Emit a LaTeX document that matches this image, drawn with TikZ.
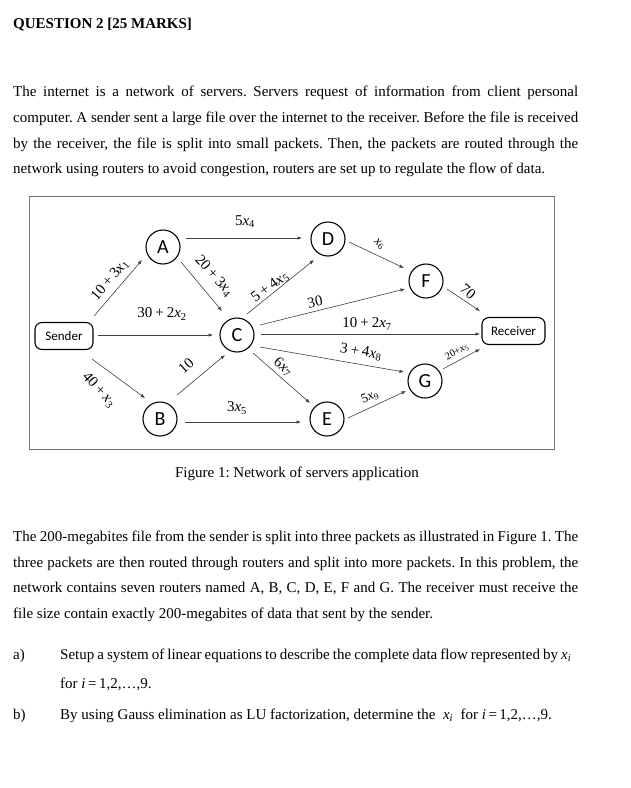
\documentclass[tikz,border=0pt]{standalone}
\usepackage{fontspec}
\setmainfont{Liberation Serif}
\newfontfamily\nodefont{Carlito}
\usetikzlibrary{arrows.meta}
\frenchspacing
\newcommand{\vx}[1]{\textit{x}\textsubscript{#1}}
\newcommand{\pls}{\hspace{0.2em}+\hspace{0.2em}}
\begin{document}
\frenchspacing
\begin{tikzpicture}[x=1pt,y=-1pt,
  txt/.style={anchor=base west, inner sep=0pt, font=\fontsize{15}{18}\selectfont},
  router/.style={circle, draw=black, line width=1.1pt, minimum size=34pt, inner sep=0pt, font=\nodefont\fontsize{20}{20}\selectfont},
  endbox/.style={draw=black, line width=1.1pt, rounded corners=7pt, minimum height=27pt, inner sep=0pt, font=\nodefont\fontsize{13}{13}\selectfont},
  flow/.style={draw=black!75, line width=0.6pt, -{Latex[length=4.5pt,width=3.5pt]}},
  lbl/.style={inner sep=0pt, font=\fontsize{15}{15}\selectfont},
  framebox/.style={draw=black!55, line width=0.9pt}
]
\useasboundingbox (0,0) rectangle (631,788);

% ---- text above ----
\node[txt, font=\fontsize{15}{18}\selectfont\bfseries] (title) at (13,28) {QUESTION 2 [25 MARKS]};
\node[txt] (p1a) at (13,96.5) {\makebox[565pt][s]{The internet is a network of servers. Servers request of information from client personal}};
\node[txt] (p1b) at (13,122) {\makebox[565pt][s]{computer. A sender sent a large file over the internet to the receiver. Before the file is received}};
\node[txt] (p1c) at (13,148) {\makebox[565pt][s]{by the receiver, the file is split into small packets. Then, the packets are routed through the}};
\node[txt] (p1d) at (13,173.5) {network using routers to avoid congestion, routers are set up to regulate the flow of data.};

% ---- figure frame ----
\draw[framebox] (29,196) rectangle (554,449);

% ---- nodes ----
\node[endbox, minimum width=58pt] (S) at (64,336) {Sender};
\node[endbox, minimum width=63pt] (R) at (513.5,331) {Receiver};
\node[router] (A) at (163,247) {A};
\node[router] (B) at (160,419) {B};
\node[router] (C) at (237,335) {C};
\node[router] (D) at (328,239) {D};
\node[router] (E) at (327,419) {E};
\node[router] (F) at (426,281) {F};
\node[router] (G) at (425,381) {G};

% ---- connectors ----
\draw[flow] ([shift={(30,-20)}]S.center) -- ([shift={(-21,13)}]A.center);
\draw[flow] ([shift={(34,-1)}]S.center) -- ([shift={(-24,0)}]C.center);
\draw[flow] ([shift={(28,23)}]S.center) -- ([shift={(-15,-21)}]B.center);
\draw[flow] ([shift={(23,-9)}]A.center) -- ([shift={(-26,-1)}]D.center);
\draw[flow] ([shift={(18,15)}]A.center) -- ([shift={(-15,-24)}]C.center);
\draw[flow] ([shift={(17,-24)}]B.center) -- ([shift={(-12,20)}]C.center);
\draw[flow] ([shift={(25,3)}]B.center) -- ([shift={(-26,3)}]E.center);
\draw[flow] ([shift={(10,-21)}]C.center) -- ([shift={(-14,21)}]D.center);
\draw[flow] ([shift={(23,-10)}]C.center) -- ([shift={(-21,8)}]F.center);
\draw[flow] ([shift={(24,-1)}]C.center) -- ([shift={(-33.5,3)}]R.center);
\draw[flow] ([shift={(23,12)}]C.center) -- ([shift={(-21,-9)}]G.center);
\draw[flow] ([shift={(16,18)}]C.center) -- ([shift={(-17,-16)}]E.center);
\draw[flow] ([shift={(21,3)}]D.center) -- ([shift={(-22,-13)}]F.center);
\draw[flow] ([shift={(21,8)}]F.center) -- ([shift={(-33.5,-20)}]R.center);
\draw[flow] ([shift={(21,-1)}]E.center) -- ([shift={(-19,10)}]G.center);
\draw[flow] ([shift={(18,-12)}]G.center) -- ([shift={(-33.5,18)}]R.center);

% ---- connector labels ----
\node[lbl, rotate=50] (l1) at (110,280) {10\pls 3\vx{1}};
\node[lbl] (l2) at (162,314) {30\pls 2\vx{2}};
\node[lbl, rotate=-47] (l3) at (99,390) {40\pls \vx{3}};
\node[lbl] (l4) at (245,222) {5\vx{4}};
\node[lbl, rotate=-48] (l5) at (214,276) {20\pls 3\vx{4}};
\node[lbl, rotate=42] (l6) at (186,366) {10};
\node[lbl] (l7) at (237,408) {3\vx{5}};
\node[lbl, rotate=36] (l8) at (270,287) {5\pls 4\vx{5}};
\node[lbl, rotate=12] (l9) at (315,302) {30};
\node[lbl] (l10) at (367,324) {10\pls 2\vx{7}};
\node[lbl, rotate=-9] (l11) at (361,352) {3\pls 4\vx{8}};
\node[lbl, rotate=-40] (l12) at (283,367) {6\vx{7}};
\node[lbl, rotate=-40, font=\fontsize{13}{13}\selectfont] (l13) at (379,244) {\vx{6}};
\node[lbl, rotate=-40] (l14) at (468,292) {70};
\node[lbl, rotate=22, font=\fontsize{13}{13}\selectfont] (l15) at (370,397) {5\vx{9}};
\node[lbl, rotate=30, font=\fontsize{10.5}{10.5}\selectfont] (l16) at (457,352) {20+\vx{5}};

% ---- caption ----
\node[txt, anchor=base] (cap) at (297,477) {Figure 1: Network of servers application};

% ---- text below ----
\node[txt] (p2a) at (13,541.5) {\makebox[565pt][s]{The 200-megabites file from the sender is split into three packets as illustrated in Figure 1. The}};
\node[txt] (p2b) at (13,567) {\makebox[565pt][s]{three packets are then routed through routers and split into more packets. In this problem, the}};
\node[txt] (p2c) at (13,592.5) {\makebox[565pt][s]{network contains seven routers named A, B, C, D, E, F and G. The receiver must receive the}};
\node[txt] (p2d) at (13,618) {file size contain exactly 200-megabites of data that sent by the sender.};

\node[txt] (qa) at (13,659) {a)};
\node[txt] (qa1) at (60,659) {\makebox[511pt][s]{Setup a system of linear equations to describe the complete data flow represented by \textit{x}\textsubscript{\textit{i}}}};
\node[txt] (qa2) at (60,688) {for \textit{i}\,=\,1,2,\ldots,9.};
\node[txt] (qb) at (13,719) {b)};
\node[txt] (qb1) at (60,719) {By using Gauss elimination as LU factorization, determine the \ \textit{x}\textsubscript{\textit{i}} \ for \textit{i}\,=\,1,2,\ldots,9.};
\end{tikzpicture}
\end{document}
